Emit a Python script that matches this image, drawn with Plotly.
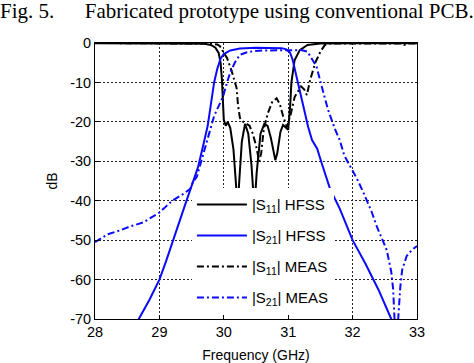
import plotly.graph_objects as go

# ---- data ----
s11_hfss_f = [28.0, 29.0, 29.5, 29.7, 29.8, 29.87, 29.92, 29.95, 29.97, 29.99, 30.0, 30.03, 30.06, 30.1,
              30.15, 30.19, 30.215, 30.24, 30.28, 30.33, 30.38, 30.43, 30.475, 30.51, 30.57, 30.63,
              30.68, 30.73, 30.78, 30.8, 30.83, 30.88, 30.92, 30.96, 31.0, 31.03, 31.05, 31.1, 31.18,
              31.3, 31.5, 32.0, 33.0]
s11_hfss_db = [-0.05, -0.08, -0.1, -0.2, -0.5, -1.2, -2.5, -5.0, -9.0, -15.0, -19.5, -21.0, -20.0, -21.5,
               -27.0, -36.0, -42.0, -35.0, -25.0, -20.5, -23.0, -31.0, -42.0, -33.0, -23.0, -20.5,
               -21.0, -24.0, -28.5, -29.7, -28.0, -22.5, -20.8, -21.5, -22.0, -16.0, -10.0, -4.3, -1.8,
               -0.5, -0.1, -0.05, -0.05]

s21_hfss_f = [28.6, 28.68, 28.85, 29.0, 29.1, 29.2, 29.3, 29.4, 29.52, 29.6, 29.68, 29.75, 29.8, 29.85,
              29.9, 29.95, 30.0, 30.1, 30.25, 30.5, 30.9, 30.97, 31.03, 31.07, 31.15, 31.23, 31.31,
              31.37, 31.45, 31.52, 31.65, 31.8, 32.0, 32.2, 32.4, 32.6, 32.7]
s21_hfss_db = [-73.0, -70.0, -65.0, -60.0, -55.5, -50.5, -45.5, -41.0, -35.3, -31.5, -26.0, -21.0, -15.5,
               -10.0, -6.5, -4.0, -2.8, -1.9, -1.4, -1.2, -1.3, -1.6, -2.5, -4.3, -10.0, -16.0, -21.3,
               -24.6, -26.8, -30.5, -37.0, -42.0, -50.0, -56.0, -62.5, -70.0, -73.0]

s11_meas_f = [28.0, 29.0, 29.6, 29.8, 29.9, 29.94, 30.0, 30.05, 30.12, 30.2, 30.22, 30.25, 30.3, 30.35,
              30.4, 30.45, 30.5, 30.55, 30.58, 30.62, 30.68, 30.75, 30.82, 30.87, 30.92, 30.98, 31.04,
              31.1, 31.2, 31.25, 31.29, 31.34, 31.42, 31.5, 31.57, 31.65, 31.8, 32.5, 32.75, 32.8, 32.85, 33.0]
s11_meas_db = [0.0, -0.05, -0.1, -0.15, -0.4, -0.8, -2.5, -3.8, -7.0, -11.5, -15.7, -19.0, -20.0, -20.5,
               -21.0, -23.0, -26.0, -30.0, -28.0, -22.0, -18.0, -15.0, -14.0, -15.5, -18.5, -21.3, -18.0,
               -13.7, -11.0, -11.8, -13.2, -9.4, -5.0, -2.2, -0.5, -0.1, -0.1, -0.1, -0.1, -0.5, -0.1, -0.1]

s21_meas_f = [28.0, 28.1, 28.2, 28.39, 28.55, 28.75, 28.9, 29.0, 29.1, 29.2, 29.35, 29.48, 29.52, 29.58,
              29.65, 29.72, 29.79, 29.85, 29.92, 29.99, 30.05, 30.1, 30.17, 30.25, 30.35, 30.45, 30.6,
              31.0, 31.2, 31.3, 31.36, 31.44, 31.52, 31.62, 31.73, 31.8, 31.87, 32.0, 32.07, 32.17,
              32.3, 32.38, 32.53, 32.6, 32.63, 32.665, 32.7, 32.74, 32.77, 32.84, 32.92, 33.0]
s21_meas_db = [-50.5, -49.5, -48.5, -47.5, -46.5, -45.5, -44.0, -43.0, -41.5, -40.0, -38.5, -37.0, -35.3,
               -34.0, -30.0, -26.0, -22.0, -18.5, -16.0, -13.5, -10.0, -7.5, -5.0, -3.0, -2.4, -2.1, -1.9,
               -1.8, -1.8, -2.2, -3.8, -6.0, -11.0, -17.0, -22.0, -24.6, -28.5, -32.5, -34.5, -38.0,
               -43.0, -46.7, -52.5, -58.0, -62.5, -75.0, -72.0, -62.0, -57.5, -54.0, -52.5, -51.5]

x_ticks = [28, 29, 30, 31, 32, 33]
x_tick_labels = ["28", "29", "30", "31", "32", "33"]
y_ticks = [0, -10, -20, -30, -40, -50, -60, -70]
y_tick_labels = ["0", "-10", "-20", "-30", "-40", "-50", "-60", "-70"]

names = ["|S<sub>11</sub>| HFSS", "|S<sub>21</sub>| HFSS", "|S<sub>11</sub>| MEAS", "|S<sub>21</sub>| MEAS"]

BLUE = "#0a0aff"
DASHDOT = "7px,3px,2px,3px"
SANS = "Liberation Sans, Arial"

fig = go.Figure()
series = [
    (s11_hfss_f, s11_hfss_db, "black", "solid"),
    (s21_hfss_f, s21_hfss_db, BLUE, "solid"),
    (s11_meas_f, s11_meas_db, "black", DASHDOT),
    (s21_meas_f, s21_meas_db, BLUE, DASHDOT),
]
for i, (f, d, c, dash) in enumerate(series):
    fig.add_trace(go.Scatter(x=f, y=d, mode="lines", name=names[i], legendgroup=str(i),
                             line=dict(color=c, width=2, dash=dash)))

axis_common = dict(showline=True, linecolor="black", linewidth=1, mirror=True,
                   showgrid=True, gridcolor="#222", griddash="2px,2px", gridwidth=1,
                   ticks="inside", ticklen=4, tickcolor="black", zeroline=False, automargin=False,
                   tickfont=dict(family=SANS, size=14.5, color="black"))

fig.update_layout(
    template="none",
    width=474, height=363,
    margin=dict(l=95, r=57, t=43, b=44, autoexpand=False),
    paper_bgcolor="white", plot_bgcolor="white",
    title=dict(text="Fig. 5.\u2003\u2009 Fabricated prototype using conventional PCB.",
               font=dict(family="Liberation Serif, Times New Roman", size=21, color="black"),
               x=0.0, xref="container", xanchor="left", y=0.99, yref="container", yanchor="top",
               pad=dict(t=0, l=0, r=0, b=0)),
    xaxis=dict(range=[28, 33], tickvals=x_ticks, ticktext=x_tick_labels,
               title=dict(text="Frequency (GHz)", font=dict(family=SANS, size=14, color="black")),
               **axis_common),
    yaxis=dict(range=[-70, 0], tickvals=y_ticks, ticktext=y_tick_labels,
               title=dict(text="dB", font=dict(family=SANS, size=14, color="black")),
               **axis_common),
    legend=dict(x=0.301, y=0.474, xanchor="left", yanchor="top", bgcolor="white", borderwidth=0,
                font=dict(family=SANS, size=15, color="black"),
                tracegroupgap=8.5, itemwidth=50),
    showlegend=True,
)

fig.write_html("out.html", config={"displayModeBar": False},
               post_script="document.body.style.margin='0';document.body.style.padding='0';")
